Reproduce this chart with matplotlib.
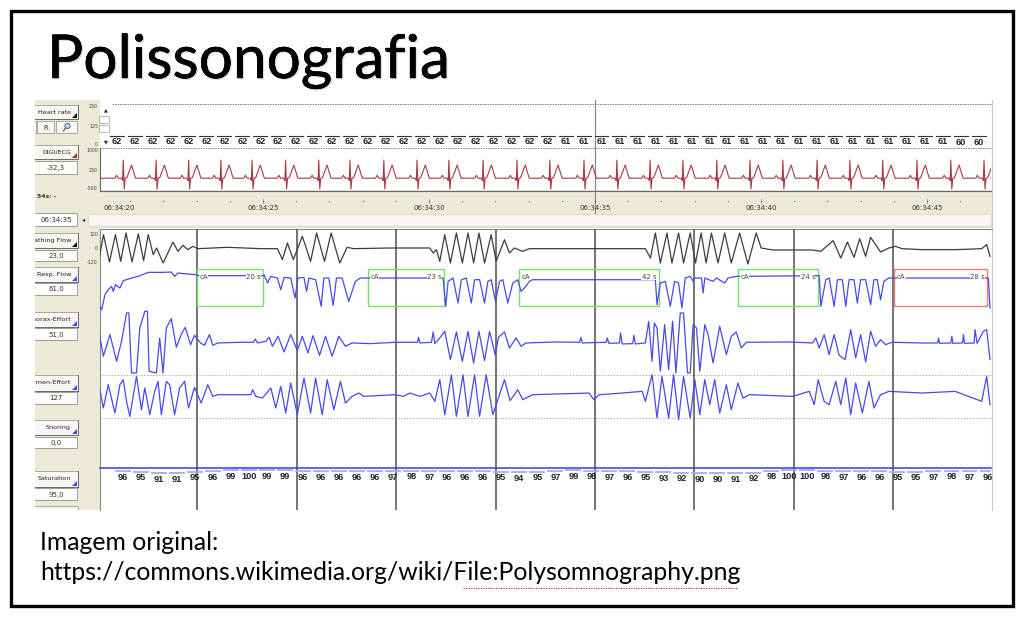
import matplotlib
matplotlib.use('Agg')
import matplotlib.pyplot as plt
import matplotlib.patheffects as pe
from matplotlib.patches import Rectangle, Polygon, Circle

# ---------------- values ----------------
# upper window: seconds after 06:34:20
hr_values = [62, 62, 62, 62, 62, 62, 62, 62, 62, 62, 62, 62, 62, 62, 62, 62, 62, 62, 62, 62,
             62, 62, 62, 62, 62, 61, 61, 61, 61, 61, 61, 61, 61, 61, 61, 61, 61, 61, 61, 61,
             61, 61, 61, 61, 61, 61, 61, 60, 60]
hr_first, hr_step = 0.59, 0.541

ecg_beats = [0.79, 1.78, 2.76, 3.73, 4.67, 5.68, 6.68, 7.62, 8.64, 9.64, 10.60, 11.63, 12.65, 13.64,
             14.67, 15.66, 16.66, 17.65, 18.67, 19.67, 20.66, 21.69, 22.68, 23.67, 24.70, 25.72, 26.72]
beat_dt = [-0.30, -0.25, -0.20, -0.15, -0.05, -0.02, 0.0, 0.03, 0.06, 0.11, 0.25, 0.37, 0.45]
beat_dv = [0, 0, 110, 0, 0, -90, 690, -410, 0, 20, 500, 0, 0]
ecg_baseline = -100

time_labels = ['06:34:20', '06:34:25', '06:34:30', '06:34:35', '06:34:40', '06:34:45']
time_label_secs = [0, 5, 10, 15, 20, 25]
cursor_sec = 15

# lower window: seconds (5 min page, 30 s epochs)
epoch_lines = [30, 60, 90, 120, 150, 180, 210, 240]

apnea_kind = ['cA', 'cA', 'cA', 'cA', 'cA']
apnea_start = [30.0, 81.5, 127.2, 193.1, 240.3]
apnea_len = [20, 23, 42, 24, 28]
apnea_color = ['#74e074', '#74e074', '#74e074', '#74e074', '#f07a7a']

sat_values = [96, 95, 91, 91, 95, 96, 99, 100, 99, 99, 96, 96, 96, 96, 96, 97, 98, 97, 96, 96,
              96, 95, 94, 95, 97, 99, 98, 97, 96, 95, 93, 92, 90, 90, 91, 92, 98, 100, 100, 98,
              97, 96, 96, 95, 95, 97, 98, 97, 96]
sat_first, sat_step = 7.7, 5.43

flow_knots = [(0.45, -35), (1.8, 40), (3.6, -42), (5.4, 40), (7.0, -40), (8.6, 45), (10.4, -42),
              (12.3, 42), (13.9, -38), (15.3, 40), (16.8, -20), (17.8, 0), (19.8, -45), (22.75, 18),
              (24.25, -10), (25.75, 8), (27.25, -5), (28.75, 5), (30.25, -2), (39.25, 2), (49.25, -2),
              (54.25, -2), (55.75, -35), (57.25, 15), (59.05, -35), (61.75, 35), (64.25, -40),
              (66.05, 45), (68.45, -40), (70.45, 45), (73.05, -45), (75.25, 2), (77.25, -2),
              (88.2, 0), (100.2, 0), (101.2, -15), (102.2, -5), (103.2, -40), (104.7, 40), (106.4, -45),
              (108.2, 45), (110.0, -45), (111.7, 45), (113.4, -45), (115.0, 45), (116.7, -45),
              (118.7, 40), (120.2, -40), (122.7, 25), (124.2, -15), (125.7, 0), (128.2, -10),
              (130.2, -2), (148.2, -2), (165.2, -2), (166.7, -30), (168.2, 45), (169.7, -45),
              (171.7, 45), (173.2, -45), (175.2, 45), (176.7, -45), (178.7, 45), (180.3, -45),
              (182.0, 45), (183.5, -45), (185.1, 45), (187.1, -45), (189.1, 45), (191.1, -45),
              (193.6, 45), (196.1, -48), (198.6, 45), (200.1, 0), (203.6, -6), (215.6, -6),
              (218.1, -10), (221.8, 22), (224.1, -30), (226.1, 18), (228.1, -28), (229.8, 28),
              (231.6, -25), (233.1, 32), (236.1, -12), (238.6, 0), (240.6, 5), (242.6, -2),
              (248.6, -5), (258.6, -5), (266.6, -2), (268.1, 10), (269.1, -25)]

resp_knots = [(0.45, -90), (1.25, -105), (2.25, -60), (3.25, -45), (4.25, -35), (4.75, -50),
              (5.45, -30), (6.75, -40), (7.75, -18), (10.25, -10), (12.25, -5), (15.25, 7),
              (19.25, 7), (22.25, 8), (23.25, -5), (24.25, 5), (27.25, 2), (29.75, 0), (30.5, -3),
              (50.0, -3), (50.25, 0), (51.25, -25), (52.25, -5), (54.25, -10), (55.25, -45),
              (56.25, -8), (58.25, -10), (59.55, -70), (60.45, -10), (62.25, -8), (63.05, -50),
              (63.75, -10), (65.75, -15), (67.45, -95), (68.25, -10), (69.75, -10), (71.05, -92),
              (72.05, -10), (73.75, -10), (75.75, -80), (77.75, -20), (79.25, -10), (104.2, -10),
              (105.0, -95), (105.7, -20), (107.2, -10), (108.7, -85), (109.7, -15), (111.2, -10),
              (112.7, -85), (113.7, -15), (115.2, -15), (116.7, -85), (117.7, -20), (118.7, -15),
              (120.0, -80), (121.2, -20), (122.2, -15), (123.7, -85), (125.2, -25), (126.7, -15),
              (127.7, -50), (129.2, -35), (130.2, -20), (131.2, -15), (168.2, -15), (168.7, -90),
              (169.7, -25), (171.2, -20), (172.7, -95), (174.0, -20), (175.2, -25), (176.2, -100),
              (177.2, -10), (178.7, -5), (179.6, -20), (180.1, -10), (182.1, -10), (182.6, -55),
              (183.1, -10), (185.6, -20), (186.6, -10), (189.1, -25), (190.1, -10), (192.6, -5),
              (217.6, -3), (218.1, -95), (219.6, -15), (220.6, -10), (222.1, -95), (223.1, -15),
              (224.6, -15), (225.6, -95), (226.6, -15), (228.1, -15), (229.1, -85), (230.1, -15),
              (231.6, -15), (233.1, -90), (234.1, -15), (235.1, -15), (236.1, -75), (237.1, -20),
              (238.6, -10), (268.6, -10), (269.1, -100)]

thorax_knots = [(0.45, 30), (1.75, -45), (3.75, 20), (5.75, -60), (7.25, 0), (8.75, 85), (9.45, 85),
                (10.25, -95), (11.75, -95), (12.75, 40), (14.25, 90), (15.05, 90), (15.55, -90),
                (17.75, -95), (18.75, 10), (19.75, -95), (20.75, 40), (22.25, 68), (23.75, -18),
                (25.45, 25), (26.45, 42), (28.05, -10), (29.25, 18), (31.05, -5), (32.25, -12),
                (33.75, 20), (34.75, -12), (36.25, -5), (43.25, -3), (47.05, -3), (47.55, 7),
                (48.25, -5), (50.75, 0), (51.75, 12), (52.75, -15), (54.45, 15), (56.25, -32),
                (58.25, 20), (60.25, -28), (61.75, 15), (63.45, -35), (64.95, 17), (66.95, -42),
                (68.75, 15), (70.75, -45), (72.75, 15), (74.75, -15), (76.75, -5), (82.25, -7),
                (89.75, -3), (93.2, -3), (96.5, -3), (96.8, 12), (97.2, -5), (100.7, -3), (101.2, 28),
                (101.7, -7), (103.2, 10), (104.7, 30), (106.4, -55), (108.2, 28), (110.0, -60),
                (111.7, 30), (113.4, -65), (115.0, 30), (116.7, -58), (118.2, 30), (119.9, -40),
                (120.9, 12), (122.7, 28), (124.2, -20), (126.2, 10), (127.7, -15), (129.2, -5),
                (138.2, -2), (145.4, -3), (145.7, 12), (146.2, -5), (153.4, -3), (153.7, 10),
                (154.2, -6), (157.4, -5), (157.7, 25), (158.2, -8), (161.4, -7), (161.7, 18),
                (162.2, -8), (165.2, -5), (166.2, 60), (167.2, -60), (167.9, 55), (168.7, 40),
                (169.7, -90), (171.0, 50), (172.2, -85), (173.4, 60), (174.4, -95), (175.7, 85),
                (176.7, 85), (177.9, -95), (178.7, -95), (179.6, 50), (180.6, 40), (181.6, -90),
                (183.1, 50), (184.1, 20), (185.6, -65), (187.6, 45), (189.6, -40), (191.1, 15),
                (192.6, 28), (194.1, -20), (195.6, -3), (208.6, -2), (215.6, -5), (216.6, 10),
                (217.6, -20), (219.1, 20), (220.6, -40), (222.1, 20), (223.6, -42), (225.4, -55),
                (227.1, 35), (228.6, -50), (230.1, 20), (231.6, -62), (233.1, 30), (234.6, -15),
                (236.1, 5), (237.6, -10), (239.6, -3), (248.6, -5), (253.3, -5), (253.6, 10),
                (253.9, -6), (257.3, -5), (257.6, 15), (257.9, -6), (260.8, -5), (261.1, 20),
                (261.4, -6), (264.3, -5), (264.6, 35), (265.2, -6), (267.1, 30), (268.1, 35),
                (269.1, -55)]

abdomen_knots = [(0.45, 30), (1.75, -40), (3.25, 30), (5.25, -55), (6.75, 30), (7.75, 45), (8.75, -20),
                 (9.75, -65), (11.75, 55), (13.25, -45), (14.25, 20), (14.75, -5), (15.75, -60),
                 (17.25, 10), (18.25, 40), (19.25, -60), (20.75, 40), (21.75, 30), (23.25, -60),
                 (24.75, 20), (26.25, 40), (27.45, -40), (29.25, 22), (31.25, -25), (33.25, 30),
                 (34.75, -5), (36.25, 0), (46.25, 0), (46.75, 15), (47.75, -5), (49.75, -10),
                 (52.25, 20), (53.75, -40), (55.25, 25), (56.75, -55), (58.25, 35), (60.25, -60),
                 (62.25, 50), (64.25, -55), (65.75, 50), (67.75, -60), (69.25, 45), (71.25, -45),
                 (73.25, 40), (74.75, -25), (76.75, -5), (78.75, 5), (80.25, -5), (89.75, 0),
                 (92.2, -5), (94.2, 5), (97.2, -5), (100.2, 5), (101.7, -20), (103.2, 45), (104.7, -60),
                 (106.7, 60), (108.2, -65), (110.2, 60), (111.7, -65), (113.7, 60), (115.2, -65),
                 (117.2, 60), (119.2, -60), (122.7, 45), (124.4, -18), (126.7, 15), (128.2, -15),
                 (131.2, 0), (148.2, 5), (149.7, -15), (151.2, 0), (158.2, 5), (164.2, 10), (165.2, -20),
                 (167.2, 60), (168.7, -70), (170.2, 55), (172.2, -70), (173.7, 60), (175.2, -75),
                 (176.7, 55), (178.7, -70), (180.1, 45), (181.6, -60), (183.1, 45), (184.6, -30),
                 (186.1, 45), (187.6, -55), (189.6, 30), (191.1, -45), (193.1, 35), (194.6, -10),
                 (196.6, 0), (209.6, -5), (214.6, 10), (216.1, -30), (217.3, 45), (219.1, -20),
                 (220.6, -30), (222.6, 40), (224.1, -30), (225.6, 50), (227.1, -60), (228.6, 35),
                 (230.6, -55), (232.6, 40), (234.1, -40), (236.1, 0), (238.6, 10), (248.6, 5),
                 (258.6, 10), (266.6, -20), (268.1, 55), (269.1, -30)]

channel_names = ['Breathing Flow', 'Resp. Flow', 'Thorax-Effort', 'Abdomen-Effort', 'Snoring', 'Saturation']
channel_readout = ['23,0', '61,0', '51,0', '127', '0,0', '95,0']

# ---------------- figure ----------------
W, H = 1024, 617
fig = plt.figure(figsize=(W / 100, H / 100), dpi=100)
fig.patch.set_facecolor('white')

BEIGE = '#ece9d8'
BLUE = '#4848ec'
UI = ['DejaVu Sans']
SLIDE = ['Lato', 'DejaVu Sans']


def px_axes(x0, y0, x1, y1):
    ax = fig.add_axes([x0 / W, 1 - y1 / H, (x1 - x0) / W, (y1 - y0) / H])
    ax.set_axis_off()
    return ax


page = px_axes(0, 0, W, H)
page.set_xlim(0, W)
page.set_ylim(H, 0)

# slide frame and texts
page.add_patch(Rectangle((11, 11), 1002, 595, fill=False, ec='black', lw=2.4))
page.text(47, 78, 'Polissonografia', fontsize=43.5, family=SLIDE, va='baseline', color='black',
          path_effects=[pe.withSimplePatchShadow(offset=(1.0, -1.0), shadow_rgbFace='#b0b0b0', alpha=0.5),
                        pe.withStroke(linewidth=0.3, foreground='black')])
page.text(40, 550, 'Imagem original:', fontsize=17.8, family=SLIDE, va='baseline')
page.text(40, 580, 'https://commons.wikimedia.org/wiki/File:Polysomnography.png', fontsize=17.8,
          family=SLIDE, va='baseline')
page.plot([463, 738], [588, 588], color='#e03030', lw=0.9, ls=(0, (1, 1)))

# screenshot backgrounds
page.add_patch(Rectangle((35, 100), 957, 410, fc='white', ec='none'))
page.add_patch(Rectangle((35, 100), 65, 410, fc=BEIGE, ec='none'))
page.add_patch(Rectangle((100, 190), 892, 38, fc=BEIGE, ec='none'))
page.add_patch(Rectangle((88, 214), 903, 12, fc='#f6f5ef', ec='#d6d2c2', lw=0.5))
page.plot([992, 992], [100, 510], color='#c8c8c8', lw=0.8)
page.plot([112, 991], [104, 104], color='#777777', lw=0.6, ls=(0, (2, 1)))
page.plot([100, 991], [147.5, 147.5], color='#777777', lw=0.6, ls=(0, (2, 1)))
page.plot([100, 100], [148, 190], color='#666666', lw=0.8)
page.plot([100, 991], [190.5, 190.5], color='#666666', lw=0.8)
page.plot([100, 992], [229, 229], color='#8a8a8a', lw=0.8)
page.plot([100, 100], [229, 510], color='#8a8a8a', lw=0.8)
for yy in (375, 418):
    page.plot([100, 991], [yy, yy], color='#9a9a9a', lw=0.6, ls=(0, (1.5, 2)))
page.plot([100, 991], [467.5, 467.5], color=BLUE, lw=1.2)

# heart-rate scroll widget
page.text(106, 110, '\u25b2', fontsize=3.5, ha='center', va='center', color='#222', family=UI)
page.add_patch(Rectangle((99, 116), 10, 7, fc='white', ec='#9a9a9a', lw=0.5))
page.add_patch(Rectangle((99, 125), 10, 7, fc='white', ec='#9a9a9a', lw=0.5))
page.text(106, 142, '\u25bc', fontsize=3.5, ha='center', va='center', color='#222', family=UI)

# left control panel
lp = px_axes(35, 100, 100, 510)
lp.set_xlim(35, 100)
lp.set_ylim(510, 100)


def button(y0, y1, label, tri):
    lp.add_patch(Rectangle((20, y0), 58, y1 - y0, fc='#f8f7f3', ec='#a09e94', lw=0.6))
    lp.plot([20, 78, 78], [y1, y1, y0], color='#6e6c64', lw=0.7)
    lp.text(71, (y0 + y1) / 2, label, ha='right', va='center', fontsize=4.6, color='#222',
            family=UI, clip_on=True)
    lp.add_patch(Polygon([(77, y1 - 1), (77, y1 - 6), (72, y1 - 1)], fc=tri, ec='none'))


def valuebox(y0, y1, text):
    lp.add_patch(Rectangle((20, y0), 57, y1 - y0, fc='white', ec='#8c8c8c', lw=0.6))
    lp.text(56, (y0 + y1) / 2 + 0.5, text, ha='center', va='center', fontsize=5, color='#333',
            family=UI, clip_on=True)


def scale_labels(ys, labels):
    for yy, lab in zip(ys, labels):
        lp.text(98, yy, lab, ha='right', va='center', fontsize=3.4, color='#444', family=UI)


button(105, 119, 'Heart rate', 'black')
lp.add_patch(Rectangle((20, 121), 16, 12, fc='#f8f7f3', ec='#a09e94', lw=0.6))
lp.add_patch(Rectangle((37, 121), 17, 12, fc='#f8f7f3', ec='#a09e94', lw=0.6))
lp.add_patch(Rectangle((56, 121), 21, 12, fc='#f8f7f3', ec='#a09e94', lw=0.6))
lp.text(45.5, 127.5, 'R', ha='center', va='center', fontsize=5, color='#333', family=UI)
lp.add_patch(Circle((67.5, 126), 2.6, fc='#bcd6f2', ec='#4a5a7a', lw=0.6))
lp.plot([65.6, 63.5], [128, 131], color='#4a5a7a', lw=0.9)
scale_labels([107, 126, 145], ['250', '125', '0'])

button(145, 159, 'DIGI/ECG', '#c02020')
valuebox(161, 174, '-32,3')
scale_labels([150, 170, 188], ['1000', '250', '-500'])
lp.text(37, 197, '54s: -', fontsize=4.4, weight='bold', color='#333', family=UI, va='center')
valuebox(213, 226, '06:34:35')
lp.text(84, 219.5, '\u25c2', fontsize=4.5, ha='center', va='center', color='#222', family=UI)

panel_rows = [(233, 248, 250, 261), (267, 282, 283, 295), (312, 327, 328, 340),
              (375, 391, 392, 404), (420, 435, 437, 448), (471, 487, 488, 500)]
tri_cols = ['black', BLUE, BLUE, BLUE, BLUE, BLUE]
for (b0, b1, v0, v1), name, val, tc in zip(panel_rows, channel_names, channel_readout, tri_cols):
    button(b0, b1, name, tc)
    valuebox(v0, v1, val)
lp.add_patch(Rectangle((20, 506), 58, 10, fc='#f8f7f3', ec='#a09e94', lw=0.6))
scale_labels([235, 248, 262], ['120', '0', '-120'])

# ---------------- upper window (30 s) ----------------
t0u, t1u = 0.09, 26.93

upper = px_axes(100, 100, 991, 228)
upper.set_xlim(t0u, t1u)
upper.set_ylim(228, 100)
upper.plot([cursor_sec, cursor_sec], [100, 213], color='#8c8c8c', lw=0.9)
for s in range(1, 27):
    upper.plot(s, 200.5, marker='s', ms=0.8, color='#666666', mec='none')
for s, lab in zip(time_label_secs, time_labels):
    if s == 0:
        upper.text(t0u + 0.12, 208.5, lab, ha='left', va='center', fontsize=5, color='#333', family=UI)
    else:
        upper.plot([s, s], [199, 203], color='#777777', lw=0.5)
        upper.text(s, 208.5, lab, ha='center', va='center', fontsize=5, color='#333', family=UI)

hr_ax = px_axes(100, 107, 991, 145)
hr_ax.set_xlim(t0u, t1u)
hr_ax.set_ylim(0, 250)
for i, v in enumerate(hr_values):
    t = hr_first + i * hr_step
    hr_ax.plot([t - 0.21, t + 0.21], [v, v], color='#333333', lw=0.8)
    hr_ax.annotate(str(v), (t, v), xytext=(0, -1.2), textcoords='offset points', ha='center', va='top',
                   fontsize=6.6, weight='bold', color='#222222', family=['Liberation Sans'])

ecg_ax = px_axes(100, 148, 991, 190)
ecg_ax.set_xlim(t0u, t1u)
ecg_ax.set_ylim(-550, 1050)
ecg_t, ecg_v = [0.0], [ecg_baseline]
for b in ecg_beats:
    for dt, dv in zip(beat_dt, beat_dv):
        ecg_t.append(b + dt)
        ecg_v.append(ecg_baseline + dv)
ecg_t.append(t1u)
ecg_v.append(ecg_baseline)
ecg_ax.plot(ecg_t, ecg_v, color='#a83a44', lw=0.8)

# ---------------- lower window (5 min) ----------------
t0l, t1l = 0.75, 269.4

lower = px_axes(100, 229, 991, 510)
lower.set_xlim(t0l, t1l)
lower.set_ylim(510, 229)
for e in epoch_lines:
    lower.plot([e, e], [229, 510], color='#4e4e4e', lw=1.1)


def channel_axes(center):
    ax = px_axes(100, 229, 991, 510)
    ax.set_xlim(t0l, t1l)
    ax.set_ylim((center - 510) * 3, (center - 229) * 3)
    return ax


traces = [(flow_knots, 248.0, '#3c3c3c'), (resp_knots, 274.7, BLUE),
          (thorax_knots, 341.3, BLUE), (abdomen_knots, 394.7, BLUE)]
chan_axes = []
for knots, center, col in traces:
    ax = channel_axes(center)
    ax.plot([k[0] for k in knots], [k[1] for k in knots], color=col, lw=0.9)
    chan_axes.append(ax)

resp_ax = chan_axes[1]
for kind, st, ln, col in zip(apnea_kind, apnea_start, apnea_len, apnea_color):
    resp_ax.add_patch(Rectangle((st, -95), ln, 112, fill=False, ec=col, lw=1.0))
    resp_ax.text(st + 0.7, -6, kind, ha='left', va='center', fontsize=5, color='#444', family=UI,
                 bbox=dict(fc='white', ec='none', pad=0.2))
    resp_ax.text(st + ln - 0.7, -6, f'{ln} s', ha='right', va='center', fontsize=5, color='#444',
                 family=UI, bbox=dict(fc='white', ec='none', pad=0.2))

sat_ax = px_axes(100, 229, 991, 510)
sat_ax.set_xlim(t0l, t1l)
sat_ax.set_ylim(-21.2, 830.3)
for i, v in enumerate(sat_values):
    t = sat_first + i * sat_step
    sat_ax.plot([t - 2.1, t + 2.1], [v, v], color='#a4aaf0', lw=1.3)
    sat_ax.annotate(str(v), (t, v), xytext=(0, -1.3), textcoords='offset points', ha='center', va='top',
                    fontsize=6.6, weight='bold', color='#222222', family=['Liberation Sans'])

fig.savefig('out.png', dpi=100)
